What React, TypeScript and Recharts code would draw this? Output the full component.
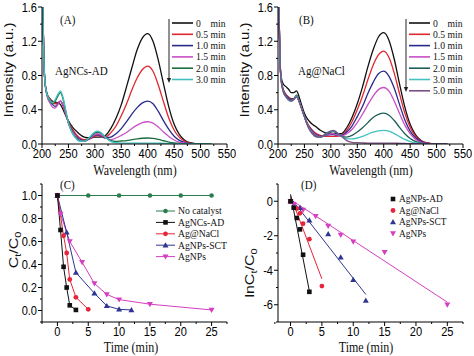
import React from 'react';
import { LineChart, Line, XAxis, YAxis, Legend } from 'recharts';

// ---------- Panel A / B : UV-vis spectra ----------
const wavelengths = [200, 202, 204, 206, 210, 215, 220, 225, 230, 235, 240, 245, 250, 255, 260, 265, 270, 280, 290, 300, 305, 310, 320, 330, 340, 350, 360, 370, 380, 390, 400, 410, 420, 430, 440, 450, 460, 470, 480, 500, 520];

const specA0 = [2.4, 1.45, 0.9, 0.7, 0.58, 0.53, 0.5, 0.49, 0.48, 0.46, 0.4, 0.33, 0.27, 0.22, 0.18, 0.15, 0.12, 0.08, 0.07, 0.08, 0.08, 0.08, 0.1, 0.18, 0.3, 0.46, 0.67, 0.89, 1.1, 1.24, 1.29, 1.2, 0.98, 0.7, 0.43, 0.23, 0.11, 0.045, 0.015, 0, 0];
const specA05 = [2.4, 1.45, 0.9, 0.7, 0.57, 0.52, 0.48, 0.47, 0.48, 0.5, 0.44, 0.34, 0.26, 0.2, 0.15, 0.11, 0.08, 0.05, 0.06, 0.09, 0.1, 0.09, 0.08, 0.13, 0.21, 0.33, 0.47, 0.63, 0.77, 0.87, 0.91, 0.85, 0.69, 0.49, 0.3, 0.16, 0.077, 0.032, 0.011, 0, 0];
const specA10 = [2.4, 1.45, 0.9, 0.7, 0.56, 0.5, 0.46, 0.44, 0.47, 0.5, 0.45, 0.35, 0.25, 0.18, 0.13, 0.09, 0.06, 0.04, 0.06, 0.1, 0.11, 0.1, 0.07, 0.08, 0.12, 0.18, 0.26, 0.35, 0.425, 0.48, 0.5, 0.47, 0.38, 0.27, 0.17, 0.09, 0.042, 0.018, 0.006, 0, 0];
const specA15 = [2.4, 1.45, 0.9, 0.7, 0.55, 0.48, 0.43, 0.42, 0.46, 0.5, 0.45, 0.35, 0.24, 0.17, 0.12, 0.08, 0.05, 0.035, 0.06, 0.11, 0.12, 0.11, 0.07, 0.05, 0.07, 0.1, 0.135, 0.18, 0.22, 0.25, 0.26, 0.243, 0.198, 0.14, 0.087, 0.047, 0.022, 0.009, 0.003, 0, 0];
const specA20 = [2.4, 1.45, 0.9, 0.7, 0.57, 0.5, 0.47, 0.5, 0.56, 0.6, 0.52, 0.38, 0.25, 0.16, 0.1, 0.07, 0.04, 0.03, 0.07, 0.13, 0.14, 0.13, 0.08, 0.04, 0.03, 0.035, 0.04, 0.05, 0.06, 0.067, 0.07, 0.065, 0.053, 0.038, 0.023, 0.013, 0.006, 0.002, 0, 0, 0];
const specA30 = [2.4, 1.45, 0.9, 0.7, 0.57, 0.51, 0.48, 0.52, 0.58, 0.62, 0.54, 0.39, 0.25, 0.16, 0.1, 0.06, 0.035, 0.03, 0.08, 0.14, 0.15, 0.14, 0.08, 0.03, 0.015, 0.01, 0.01, 0.01, 0.01, 0.01, 0.01, 0.01, 0.01, 0.008, 0.006, 0.005, 0.003, 0.001, 0, 0, 0];

const specB0 = [2.4, 1.5, 0.95, 0.78, 0.7, 0.67, 0.64, 0.6, 0.6, 0.62, 0.55, 0.45, 0.36, 0.3, 0.26, 0.23, 0.21, 0.16, 0.13, 0.12, 0.12, 0.12, 0.12, 0.19, 0.31, 0.47, 0.67, 0.9, 1.1, 1.25, 1.3, 1.21, 0.99, 0.7, 0.43, 0.23, 0.11, 0.045, 0.015, 0, 0];
const specB05 = [2.4, 1.5, 0.95, 0.75, 0.64, 0.58, 0.55, 0.53, 0.53, 0.55, 0.5, 0.41, 0.32, 0.25, 0.2, 0.16, 0.13, 0.1, 0.09, 0.09, 0.09, 0.09, 0.1, 0.16, 0.26, 0.4, 0.56, 0.75, 0.92, 1.04, 1.085, 1.01, 0.825, 0.585, 0.36, 0.195, 0.092, 0.038, 0.013, 0, 0];
const specB10 = [2.4, 1.5, 0.95, 0.75, 0.63, 0.57, 0.54, 0.52, 0.53, 0.56, 0.5, 0.41, 0.32, 0.24, 0.19, 0.15, 0.12, 0.09, 0.1, 0.11, 0.11, 0.1, 0.1, 0.14, 0.21, 0.32, 0.44, 0.59, 0.72, 0.82, 0.85, 0.79, 0.65, 0.46, 0.28, 0.15, 0.072, 0.03, 0.01, 0, 0];
const specB15 = [2.4, 1.5, 0.95, 0.75, 0.62, 0.56, 0.53, 0.51, 0.52, 0.55, 0.5, 0.41, 0.32, 0.24, 0.18, 0.14, 0.11, 0.08, 0.1, 0.12, 0.12, 0.11, 0.09, 0.12, 0.17, 0.25, 0.35, 0.46, 0.56, 0.635, 0.66, 0.617, 0.5, 0.356, 0.22, 0.12, 0.056, 0.023, 0.008, 0, 0];
const specB20 = [2.4, 1.5, 0.95, 0.75, 0.62, 0.56, 0.53, 0.51, 0.53, 0.57, 0.5, 0.41, 0.32, 0.23, 0.17, 0.13, 0.1, 0.08, 0.11, 0.14, 0.145, 0.13, 0.09, 0.08, 0.1, 0.14, 0.19, 0.25, 0.31, 0.345, 0.36, 0.336, 0.274, 0.194, 0.12, 0.065, 0.03, 0.013, 0.004, 0, 0];
const specB30 = [2.4, 1.5, 0.95, 0.74, 0.61, 0.55, 0.51, 0.5, 0.52, 0.56, 0.5, 0.41, 0.32, 0.23, 0.17, 0.12, 0.09, 0.08, 0.12, 0.15, 0.155, 0.14, 0.09, 0.06, 0.06, 0.07, 0.09, 0.115, 0.138, 0.154, 0.16, 0.15, 0.122, 0.086, 0.053, 0.029, 0.014, 0.006, 0.002, 0, 0];
const specB50 = [2.4, 1.5, 0.95, 0.74, 0.61, 0.55, 0.52, 0.5, 0.52, 0.55, 0.5, 0.41, 0.32, 0.23, 0.16, 0.12, 0.09, 0.08, 0.12, 0.15, 0.16, 0.14, 0.09, 0.04, 0.02, 0.015, 0.012, 0.01, 0.01, 0.01, 0.01, 0.01, 0.01, 0.008, 0.006, 0.005, 0.003, 0.001, 0, 0, 0];

const labelsA = ['0    min', '0.5 min', '1.0 min', '1.5 min', '2.0 min', '3.0 min'];
const colorsA = ['#111111', '#e0262e', '#2a2a8c', '#c94fc9', '#1b6e3d', '#43bfc0'];
const labelsB = ['0    min', '0.5 min', '1.0 min', '1.5 min', '2.0 min', '3.0 min', '5.0 min'];
const colorsB = ['#111111', '#e0262e', '#2a2a8c', '#c94fc9', '#1d5e55', '#43c2c2', '#7b4f86'];

const xTicksSpec = [200, 225, 250, 275, 300, 325, 350, 375, 400, 425, 450, 475, 500, 525, 550];
const xMajorSpec = [200, 250, 300, 350, 400, 450, 500, 550];
const yTicksSpec = [0, 0.2, 0.4, 0.6, 0.8, 1.0, 1.2, 1.4, 1.6];
const yMajorSpec = [0, 0.4, 0.8, 1.2, 1.6];

// ---------- Panel C : Ct/C0 vs time ----------
const noCatT = [0, 5, 10, 15, 20, 25];
const noCatV = [1, 1, 1, 1, 1, 1];
const adT = [0, 0.5, 1, 1.5, 2, 3];
const adV = [1, 0.7, 0.38, 0.2, 0.045, 0.005];
const naclT = [0, 1, 1.5, 2, 3, 5];
const naclV = [1, 0.65, 0.5, 0.27, 0.115, 0.01];
const sctT = [0, 1.5, 3, 6, 8, 10, 12];
const sctV = [1, 0.68, 0.33, 0.15, 0.04, 0.01, 0.005];
const npT = [0, 0.5, 2, 4, 6, 8, 10, 15, 25];
const npV = [1, 0.84, 0.6, 0.42, 0.235, 0.14, 0.095, 0.055, 0.005];
const labelsC = ['No catalyst', 'AgNCs-AD', 'Ag@NaCl', 'AgNPs-SCT', 'AgNPs'];

const xTicksTime = [-2.5, 0, 2.5, 5, 7.5, 10, 12.5, 15, 17.5, 20, 22.5, 25, 27.5];
const xMajorTime = [0, 5, 10, 15, 20, 25];
const yTicksC = [-0.1, 0, 0.1, 0.2, 0.3, 0.4, 0.5, 0.6, 0.7, 0.8, 0.9, 1.0, 1.1];
const yMajorC = [0, 0.2, 0.4, 0.6, 0.8, 1.0];

// ---------- Panel D : ln(Ct/C0) vs time ----------
const adLnV = [0, -0.37, -0.97, -1.63, -3.1, -5.25];
const naclLnV = [0, -0.42, -0.7, -1.3, -2.2, -4.92];
const sctLnV = [0, -0.38, -1.1, -1.9, -3.25, -4.55, -5.75];
const npLnV = [0, -0.17, -0.5, -0.87, -1.43, -1.95, -2.35, -2.95, -6.0];
const adFitT = [0, 3];
const adFitV = [0.4, -5.2];
const naclFitT = [0, 5];
const naclFitV = [0.3, -4.5];
const sctFitT = [0, 12];
const sctFitV = [0.2, -5.4];
const npFitT = [0, 25];
const npFitV = [0.1, -5.85];
const labelsD = ['AgNPs-AD', 'Ag@NaCl', 'AgNPs-SCT', 'AgNPs'];

const yTicksD = [-7, -6, -5, -4, -3, -2, -1, 0, 1];
const yMajorD = [-6, -4, -2, 0];

const C_GREEN = '#2a7d4e';
const C_BLACK = '#111111';
const C_RED = '#e4253a';
const C_BLUE = '#2f3590';
const C_MAG = '#d63fbf';

const SANS = '"Liberation Sans", Arial, sans-serif';
const SERIF = '"Liberation Serif", "Times New Roman", serif';
const SX = 0.85;

const pts = (t: number[], v: number[]) => t.map((x, i) => ({ t: x, v: v[i] }));
const table = (series: number[][]) =>
  wavelengths.map((w, i) => {
    const row: any = { w };
    series.forEach((s, k) => (row['s' + k] = s[i]));
    return row;
  });

const tableA = table([specA0, specA05, specA10, specA15, specA20, specA30]);
const tableB = table([specB0, specB05, specB10, specB15, specB20, specB30, specB50]);

const has = (arr: number[], v: number) => arr.some((m) => Math.abs(m - v) < 1e-9);

const XTick = (majors: number[], fmt: (v: number) => string) => (props: any) => {
  const { x, y, payload } = props;
  const v = payload.value;
  const major = has(majors, v);
  return (
    <g transform={`translate(${x},${y})`}>
      <line x1={0} y1={0} x2={0} y2={major ? 4 : 2} stroke="#000" strokeWidth={1} />
      {major && (
        <text transform={`translate(0,14) scale(${SX},1)`} textAnchor="middle" fontSize={13} fontFamily={SANS} fill="#000">
          {fmt(v)}
        </text>
      )}
    </g>
  );
};

const YTick = (majors: number[], fmt: (v: number) => string) => (props: any) => {
  const { x, y, payload } = props;
  const v = payload.value;
  const major = has(majors, v);
  return (
    <g transform={`translate(${x},${y})`}>
      <line x1={0} y1={0} x2={major ? -4 : -2} y2={0} stroke="#000" strokeWidth={1} />
      {major && (
        <text transform={`translate(-5,4.6) scale(${SX},1)`} textAnchor="end" fontSize={13} fontFamily={SANS} fill="#000">
          {fmt(v)}
        </text>
      )}
    </g>
  );
};

const Marker = ({ cx, cy, kind, color }: any) => {
  if (cx == null || cy == null) return null;
  if (kind === 'square') return <rect x={cx - 2.3} y={cy - 2.3} width={4.6} height={4.6} fill={color} />;
  if (kind === 'circle') return <circle cx={cx} cy={cy} r={2.4} fill={color} />;
  if (kind === 'diamond') return <circle cx={cx} cy={cy} r={2.3} fill={color} />;
  if (kind === 'up') return <polygon points={`${cx},${cy - 3} ${cx - 3},${cy + 2.2} ${cx + 3},${cy + 2.2}`} fill={color} />;
  return <polygon points={`${cx - 3},${cy - 2.2} ${cx + 3},${cy - 2.2} ${cx},${cy + 3}`} fill={color} />;
};

const dotOf = (kind: string, color: string) => (p: any) => (
  <Marker key={`${kind}-${p.index}`} cx={p.cx} cy={p.cy} kind={kind} color={color} />
);

const SpectraLegend = ({ labels, colors, arrowEnd }: any) => {
  const gap = 11.3;
  return (
    <svg width={80} height={arrowEnd + 4} style={{ display: 'block', overflow: 'visible' }}>
      <line x1={3} y1={2} x2={3} y2={arrowEnd - 4} stroke="#222" strokeWidth={1} />
      <polygon points={`0.8,${arrowEnd - 5} 5.2,${arrowEnd - 5} 3,${arrowEnd}`} fill="#222" />
      {labels.map((l: string, i: number) => {
        const y = 6 + i * gap;
        return (
          <g key={i}>
            <line x1={6} x2={27} y1={y} y2={y} stroke={colors[i]} strokeWidth={1.6} />
            <text transform={`translate(30,${y + 3.5}) scale(0.92,1)`} fontSize={10.5} fontFamily={SERIF} fill="#111" style={{ whiteSpace: 'pre' }}>
              {l}
            </text>
          </g>
        );
      })}
    </svg>
  );
};

const legendCItems = [
  { kind: 'diamond', color: C_GREEN },
  { kind: 'square', color: C_BLACK },
  { kind: 'circle', color: C_RED },
  { kind: 'up', color: C_BLUE },
  { kind: 'down', color: C_MAG },
];
const legendDItems = legendCItems.slice(1);

const LegendC = () => (
  <svg width={80} height={60} style={{ display: 'block', overflow: 'visible' }}>
    {labelsC.map((l, i) => {
      const y = 6 + i * 11.4;
      const it = legendCItems[i];
      return (
        <g key={i}>
          <line x1={6} x2={25} y1={y} y2={y} stroke={it.color} strokeWidth={1} />
          <Marker cx={15.5} cy={y} kind={it.kind} color={it.color} />
          <text transform={`translate(28,${y + 3.4}) scale(0.95,1)`} fontSize={10.2} fontFamily={SERIF} fill="#111">
            {l}
          </text>
        </g>
      );
    })}
  </svg>
);

const LegendD = () => (
  <svg width={80} height={50} style={{ display: 'block', overflow: 'visible' }}>
    {labelsD.map((l, i) => {
      const y = 6 + i * 11.5;
      const it = legendDItems[i];
      return (
        <g key={i}>
          <Marker cx={6} cy={y} kind={it.kind} color={it.color} />
          <text transform={`translate(12,${y + 3.4}) scale(0.92,1)`} fontSize={10.2} fontFamily={SERIF} fill="#111">
            {l}
          </text>
        </g>
      );
    })}
  </svg>
);

const fmt1 = (v: number) => v.toFixed(1);
const fmt0 = (v: number) => String(v);

const SpectraChart = ({ data, colors, labels, arrowEnd, legendLeft }: any) => (
  <LineChart width={236} height={180} data={data} margin={{ top: 7, right: 9, left: 0, bottom: 0 }}>
    <XAxis
      type="number"
      dataKey="w"
      domain={[200, 550]}
      ticks={xTicksSpec}
      interval={0}
      allowDataOverflow
      height={36}
      tickSize={0}
      tickMargin={0}
      tickLine={false}
      axisLine={{ stroke: '#000' }}
      tick={XTick(xMajorSpec, fmt0)}
    />
    <YAxis
      type="number"
      domain={[0, 1.6]}
      ticks={yTicksSpec}
      interval={0}
      allowDataOverflow
      width={42}
      tickSize={0}
      tickMargin={0}
      tickLine={false}
      axisLine={{ stroke: '#000' }}
      tick={YTick(yMajorSpec, fmt1)}
    />
    {colors.map((c: string, k: number) => (
      <Line key={k} type="monotone" dataKey={'s' + k} stroke={c} strokeWidth={1.3} dot={false} isAnimationActive={false} />
    ))}
    <Legend
      layout="vertical"
      align="center"
      verticalAlign="middle"
      wrapperStyle={{ left: legendLeft, top: 17, width: 80 }}
      content={() => <SpectraLegend labels={labels} colors={colors} arrowEnd={arrowEnd} />}
    />
  </LineChart>
);

export default function App() {
  return (
    <div style={{ position: 'fixed', left: 0, top: 0, width: 474, height: 356, background: '#fff', overflow: 'hidden' }}>
      <div style={{ position: 'absolute', left: 0, top: 0 }}>
        <SpectraChart data={tableA} colors={colorsA} labels={labelsA} arrowEnd={66} legendLeft={166} />
      </div>
      <div style={{ position: 'absolute', left: 236, top: 0 }}>
        <SpectraChart data={tableB} colors={colorsB} labels={labelsB} arrowEnd={75} legendLeft={167} />
      </div>

      {/* Panel C */}
      <div style={{ position: 'absolute', left: 0, top: 170 }}>
        <LineChart width={236} height={186} margin={{ top: 14, right: 9, left: 0, bottom: 0 }}>
          <XAxis
            type="number"
            dataKey="t"
            domain={[-2.5, 27.5]}
            ticks={xTicksTime}
            interval={0}
            allowDataOverflow
            height={34}
            tickSize={0}
            tickMargin={0}
            tickLine={false}
            axisLine={{ stroke: '#000' }}
            tick={XTick(xMajorTime, fmt0)}
          />
          <YAxis
            type="number"
            dataKey="v"
            domain={[-0.1, 1.1]}
            ticks={yTicksC}
            interval={0}
            allowDataOverflow
            width={42}
            tickSize={0}
            tickMargin={0}
            tickLine={false}
            axisLine={{ stroke: '#000' }}
            tick={YTick(yMajorC, fmt1)}
          />
          <Line data={pts(noCatT, noCatV)} dataKey="v" stroke={C_GREEN} strokeWidth={1} dot={dotOf('diamond', C_GREEN)} isAnimationActive={false} />
          <Line data={pts(npT, npV)} dataKey="v" stroke={C_MAG} strokeWidth={1} dot={dotOf('down', C_MAG)} isAnimationActive={false} />
          <Line data={pts(sctT, sctV)} dataKey="v" stroke={C_BLUE} strokeWidth={1} dot={dotOf('up', C_BLUE)} isAnimationActive={false} />
          <Line data={pts(naclT, naclV)} dataKey="v" stroke={C_RED} strokeWidth={1} dot={dotOf('circle', C_RED)} isAnimationActive={false} />
          <Line data={pts(adT, adV)} dataKey="v" stroke={C_BLACK} strokeWidth={1} dot={dotOf('square', C_BLACK)} isAnimationActive={false} />
          <Legend layout="vertical" align="center" verticalAlign="middle" wrapperStyle={{ left: 150, top: 35, width: 80 }} content={() => <LegendC />} />
        </LineChart>
      </div>

      {/* Panel D */}
      <div style={{ position: 'absolute', left: 236, top: 170 }}>
        <LineChart width={238} height={186} margin={{ top: 14, right: 11, left: 0, bottom: 0 }}>
          <XAxis
            type="number"
            dataKey="t"
            domain={[-2, 27.5]}
            ticks={xTicksTime}
            interval={0}
            allowDataOverflow
            height={34}
            tickSize={0}
            tickMargin={0}
            tickLine={false}
            axisLine={{ stroke: '#000' }}
            tick={XTick(xMajorTime, fmt0)}
          />
          <YAxis
            type="number"
            dataKey="v"
            domain={[-7, 1]}
            ticks={yTicksD}
            interval={0}
            allowDataOverflow
            width={42}
            tickSize={0}
            tickMargin={0}
            tickLine={false}
            axisLine={{ stroke: '#000' }}
            tick={YTick(yMajorD, fmt0)}
          />
          <Line data={pts(npFitT, npFitV)} dataKey="v" stroke={C_MAG} strokeWidth={1} dot={false} legendType="none" isAnimationActive={false} />
          <Line data={pts(sctFitT, sctFitV)} dataKey="v" stroke={C_BLUE} strokeWidth={1} dot={false} legendType="none" isAnimationActive={false} />
          <Line data={pts(naclFitT, naclFitV)} dataKey="v" stroke={C_RED} strokeWidth={1} dot={false} legendType="none" isAnimationActive={false} />
          <Line data={pts(adFitT, adFitV)} dataKey="v" stroke={C_BLACK} strokeWidth={1} dot={false} legendType="none" isAnimationActive={false} />
          <Line data={pts(npT, npLnV)} dataKey="v" stroke="none" dot={dotOf('down', C_MAG)} isAnimationActive={false} />
          <Line data={pts(sctT, sctLnV)} dataKey="v" stroke="none" dot={dotOf('up', C_BLUE)} isAnimationActive={false} />
          <Line data={pts(naclT, naclLnV)} dataKey="v" stroke="none" dot={dotOf('circle', C_RED)} isAnimationActive={false} />
          <Line data={pts(adT, adLnV)} dataKey="v" stroke="none" dot={dotOf('square', C_BLACK)} isAnimationActive={false} />
          <Legend layout="vertical" align="center" verticalAlign="middle" wrapperStyle={{ left: 151, top: 23, width: 80 }} content={() => <LegendD />} />
        </LineChart>
      </div>

      {/* Text annotations */}
      <svg width={474} height={356} style={{ position: 'absolute', left: 0, top: 0, pointerEvents: 'none' }}>
        <g fontFamily={SANS} fill="#111" fontSize={15}>
          <text transform={`translate(13,70) rotate(-90) scale(1,${SX})`} textAnchor="middle">Intensity (a.u.)</text>
          <text transform={`translate(249,70) rotate(-90) scale(1,${SX})`} textAnchor="middle">Intensity (a.u.)</text>
          <text transform={`translate(18,250) rotate(-90) scale(1,${SX})`} textAnchor="middle" fontSize={16}>
            C<tspan dy={3} fontSize={11}>t</tspan>
            <tspan dy={-3}>/C</tspan>
            <tspan dy={3} fontSize={11}>0</tspan>
          </text>
          <text transform={`translate(254,273) rotate(-90) scale(1,${SX})`} textAnchor="middle" fontSize={16}>
            lnC<tspan dy={3} fontSize={11}>t</tspan>
            <tspan dy={-3}>/C</tspan>
            <tspan dy={3} fontSize={11}>0</tspan>
          </text>
        </g>
        <g fontFamily={SERIF} fill="#111">
          <text transform={`translate(135,175) scale(0.8,1)`} textAnchor="middle" fontSize={15}>Wavelength (nm)</text>
          <text transform={`translate(371,175) scale(0.8,1)`} textAnchor="middle" fontSize={15}>Wavelength (nm)</text>
          <text transform={`translate(131,352) scale(0.8,1)`} textAnchor="middle" fontSize={15}>Time (min)</text>
          <text transform={`translate(366,352) scale(0.8,1)`} textAnchor="middle" fontSize={15}>Time (min)</text>
          <text transform={`translate(60,24) scale(0.85,1)`} fontSize={13}>(A)</text>
          <text transform={`translate(299,24) scale(0.85,1)`} fontSize={13}>(B)</text>
          <text transform={`translate(60,189) scale(0.85,1)`} fontSize={13}>(C)</text>
          <text transform={`translate(301,189) scale(0.85,1)`} fontSize={13}>(D)</text>
          <text transform={`translate(55,75) scale(0.85,1)`} fontSize={13}>AgNCs-AD</text>
          <text transform={`translate(298,75) scale(0.85,1)`} fontSize={13}>Ag@NaCl</text>
        </g>
      </svg>
    </div>
  );
}
